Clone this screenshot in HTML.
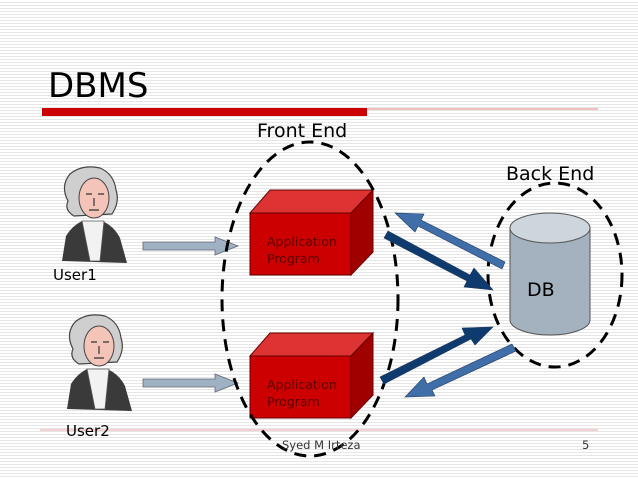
<!DOCTYPE html>
<html><head><meta charset="utf-8"><style>
html,body{margin:0;padding:0;}
body{width:638px;height:478px;overflow:hidden;background:#fff repeating-linear-gradient(180deg,#fff 0px,#fff 2px,#e6e6e6 2px,#e6e6e6 3px);}
svg{position:absolute;left:0;top:0;}
text{font-family:"DejaVu Sans","Liberation Sans",sans-serif;}
</style></head><body>
<svg width="638" height="478" viewBox="0 0 638 478">
<defs>
<g id="user">
  <path d="M10,95 L14,70 Q20,60 30,55 L50,55 Q62,60 68,72 L75,97 Z" fill="#3a3a3a"/>
  <path d="M30,55 L38,95 L48,95 L52,55 Z" fill="#f2f2f2" stroke="#555" stroke-width="0.8"/>
  <path d="M16,35 Q8,20 18,8 Q30,-2 48,2 Q62,8 64,24 Q68,36 60,48 L22,50 Q12,44 16,35 Z" fill="#cfcfcf" stroke="#444" stroke-width="1.2"/>
  <ellipse cx="42" cy="32" rx="15" ry="20" fill="#f4c4b8" stroke="#444" stroke-width="1"/>
  <path d="M34,28 h6 M46,28 h6 M42,32 v8 M37,44 h10" stroke="#333" stroke-width="1.2" fill="none"/>
</g>
</defs>
<text x="48" y="97" font-size="34" fill="#000">DBMS</text>
<rect x="42" y="108" width="325" height="8" fill="#cc0000"/>
<line x1="367" y1="109" x2="598" y2="109" stroke="#e08080" stroke-width="1"/>
<line x1="40" y1="430" x2="598" y2="430" stroke="#e8a0a0" stroke-width="1"/>
<text x="257" y="137" font-size="19" fill="#000">Front End</text>
<text x="506" y="180" font-size="19" fill="#000">Back End</text>

<use href="#user" x="52" y="166"/>
<use href="#user" x="57" y="314"/>
<text x="53" y="280" font-size="15" fill="#000">User1</text>
<text x="66" y="436" font-size="15" fill="#000">User2</text>

<polygon points="143,242 215,242 215,237 238,246 215,255 215,250 143,250" fill="#9fb2c4" stroke="#667" stroke-width="0.8"/>
<polygon points="143,379 215,379 215,374 238,383 215,392 215,387 143,387" fill="#9fb2c4" stroke="#667" stroke-width="0.8"/>

<!-- boxes -->
<g stroke="#600" stroke-width="1">
<polygon points="250,213 270,190 373,190 351,213" fill="#dd3333"/>
<polygon points="351,213 373,190 373,252 351,275" fill="#a00000"/>
<rect x="250" y="213" width="101" height="62" fill="#cc0000"/>
<polygon points="250,356 270,333 373,333 351,356" fill="#dd3333"/>
<polygon points="351,356 373,333 373,395 351,418" fill="#a00000"/>
<rect x="250" y="356" width="101" height="62" fill="#cc0000"/>
</g>
<text x="267" y="246" font-size="12.5" fill="#5a0000">Application</text>
<text x="267" y="263" font-size="12.5" fill="#5a0000">Program</text>
<text x="267" y="389" font-size="12.5" fill="#5a0000">Application</text>
<text x="267" y="406" font-size="12.5" fill="#5a0000">Program</text>

<ellipse cx="310" cy="299" rx="88" ry="157" fill="none" stroke="#000" stroke-width="3" stroke-dasharray="12,8"/>

<!-- cylinder -->
<path d="M510,228 L510,320 A40,15 0 0 0 590,320 L590,228 Z" fill="#a4b2c0" stroke="#555" stroke-width="1"/>
<ellipse cx="550" cy="228" rx="40" ry="15" fill="#cdd5dd" stroke="#555" stroke-width="1"/>
<text x="527" y="296" font-size="19" fill="#000">DB</text>

<ellipse cx="555" cy="275" rx="67" ry="92" fill="none" stroke="#000" stroke-width="3" stroke-dasharray="12,8"/>

<!-- arrows -->
<g stroke="#203a60" stroke-width="0.6">
<polygon points="505,262 502,269 418,226 415,232 395,213 424,214 421,220" fill="#3f6ea8"/>
<polygon points="384,238 388,231 470,275 474,268 493,290 464,287 467,281" fill="#0e3a6e"/>
<polygon points="384,384 380,377 465,335 462,328 493,327 475,345 471,339" fill="#0e3a6e"/>
<polygon points="512,344 516,351 432,390 435,396 405,397 424,377 427,384" fill="#3f6ea8"/>
</g>

<text x="282" y="449" font-size="11.5" fill="#333">Syed M Irteza</text>
<text x="582" y="449" font-size="11.5" fill="#333">5</text>
</svg>
</body></html>
